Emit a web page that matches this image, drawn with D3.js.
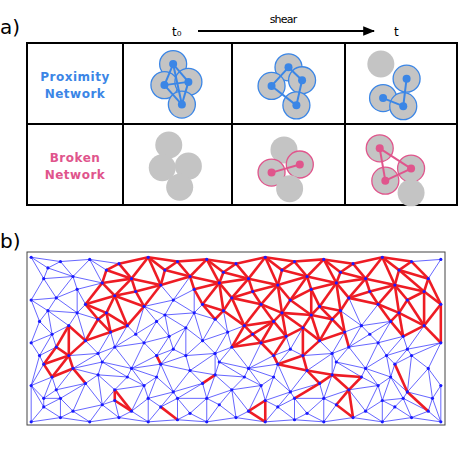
<!DOCTYPE html>
<html><head><meta charset="utf-8">
<script src="https://cdn.jsdelivr.net/npm/d3@7"></script>
<style>body{margin:0;background:#fff}text{font-family:"DejaVu Sans",sans-serif}</style>
</head><body><svg id="c" width="474" height="463"></svg>
<script>
// panel a: particle positions per cell (cell units 0..100), linked pairs
const rowLabels = [['Proximity', 'Network'], ['Broken', 'Network']];
const rowColors = ['#3b86e6', '#e0558c'];
const cells = [
  {row: 0, col: 1, p: [[46, 26], [38, 52], [60, 48], [54, 76]], ringed: [0, 1, 2, 3], links: [[0, 1], [0, 2], [1, 2], [1, 3], [2, 3], [0, 3]]},
  {row: 0, col: 2, p: [[50, 30], [35, 53], [62, 46], [57, 77]], ringed: [0, 1, 2, 3], links: [[0, 1], [0, 2], [1, 3], [2, 3]]},
  {row: 0, col: 3, p: [[32, 26], [55, 44], [34, 68], [52, 78]], ringed: [1, 2, 3], links: [[2, 3], [1, 3]]},
  {row: 1, col: 1, p: [[42, 26], [36, 54], [60, 52], [52, 78]], ringed: [], links: []},
  {row: 1, col: 2, p: [[46, 32], [35, 60], [60, 50], [51, 80]], ringed: [1, 2], links: [[1, 2]]},
  {row: 1, col: 3, p: [[31, 30], [59, 55], [36, 70], [59, 85]], ringed: [0, 1, 2], links: [[0, 1], [1, 2], [0, 2]]}
];
const colEdges = [27, 123, 232, 345, 457];
// panel b: nodes [x, y, broken] in box units (0..100 x 0..40)
const nodes = [
[1,1,0],[8,2,0],[15,1.5,0],[22,2.5,1],[29,1,1],[36,2,1],[43,1.5,1],[50,2.5,1],[57,1,1],[64,2,1],[71,1.5,1],[78,2.5,1],[85,1,1],[92,2,1],[99,1.5,0],
[4,6,0],[11,5.5,0],[18,7,1],[25,6,1],[32,7.5,1],[39,5.5,1],[46,7,1],[53,6,1],[60,7.5,1],[67,5.5,1],[74,7,1],[81,6,1],[88,7.5,1],[96,6,1],
[1,11,0],[7,10.5,0],[14,12,1],[21,10,1],[28,12.5,1],[35,11,0],[42,12,1],[49,10.5,1],[56,12,1],[63,11,1],[70,12.5,1],[77,10.5,1],[84,12,1],[91,11,1],[99,12,1],
[3,16,0],[10,17,1],[17,15.5,1],[24,17,1],[31,16,0],[38,17.5,0],[45,15.5,1],[52,17,1],[59,16,1],[66,17.5,1],[73,15.5,1],[80,17,0],[87,16,1],[95,17,1],
[1,21,1],[7,22,1],[14,20.5,1],[21,22,0],[28,21,0],[35,22.5,0],[42,20.5,0],[49,22,1],[56,21,1],[63,22.5,0],[70,20.5,1],[77,22,1],[84,21,0],[91,22.5,0],[99,21,1],
[4,26,1],[11,27,1],[18,25.5,0],[25,27,0],[32,26,1],[39,27.5,0],[46,25.5,0],[53,27,0],[60,26,1],[67,27.5,1],[74,25.5,0],[81,27,0],[88,26,1],[96,27,0],
[1,31,0],[7,32,0],[14,30.5,1],[21,32,1],[28,31,0],[35,32.5,0],[42,30.5,1],[49,32,0],[56,31,0],[63,32.5,0],[70,30.5,1],[77,32,1],[84,31,0],[91,32.5,1],[99,31,0],
[4,36,1],[11,37,0],[18,35.5,0],[25,37,1],[32,36,1],[39,37.5,0],[46,35.5,0],[53,37,1],[60,36,0],[67,37.5,0],[74,35.5,1],[81,37,0],[88,36,0],[96,37,1],
[1,39.5,0],[15,39.5,1],[29,39.5,0],[43,39.5,0],[57,39.5,1],[71,39.5,0],[85,39.5,0],[99,39.5,0],
[5,3.5,0],[19,4,1],[33,4,1],[47,4.5,1],[61,4,1],[75,4.5,1],[89,4,1],[12,14,0],[40,14,0],[68,14.5,1],[26,19,0],[54,19,1],[82,19,0],[10,24,1],[38,24,0],[66,24,1],[92,24,0],
[24,29,0],[52,29,0],[80,29,1],[8,34,0],[36,34,0],[64,34,1],[90,34,0],
[12,8.5,0],[26,9,1],[40,8.5,1],[54,9,1],[68,8.5,1],[82,9,1],[95,9,1],[5,13.5,0],[19,14,1],[33,14.5,0],[47,13.5,1],[61,14,1],[75,13.5,1],[89,14,1],
[6,19,0],[20,18.5,1],[34,19.5,0],[48,18.5,0],[62,19.5,1],[76,18.5,1],[90,19.5,1],[3,24,0],[17,23.5,0],[31,24,1],[45,23.5,0],[59,24,1],[73,23.5,0],[86,24,0],
[6,29,1],[17,28.5,0],[31,29,0],[45,28.5,1],[59,29,0],[73,28.5,1],[87,29,0],[4,34,0],[21,34.5,1],[29,34,0],[43,34,0],[57,34.5,1],[71,34,0],[85,34.5,0],[97,34,0],
[8,38.5,0],[22,38.5,0],[36,39,1],[50,38.5,0],[64,39,0],[78,38.5,1],[92,38.5,0]
];

const svg = d3.select('#c');

// ---- panel a ----
svg.append('text').attr('x', 0).attr('y', 34).attr('font-size', 20).text('a)');
svg.append('text').attr('x', 172).attr('y', 36).attr('font-size', 12).text('t₀');
svg.append('text').attr('x', 283).attr('y', 23).attr('font-size', 11).attr('text-anchor', 'middle').attr('letter-spacing', -0.8).text('shear');
svg.append('text').attr('x', 394).attr('y', 36).attr('font-size', 12).text('t');
svg.append('defs').append('marker').attr('id', 'ah').attr('viewBox', '0 0 10 10').attr('refX', 9).attr('refY', 5)
  .attr('markerWidth', 6).attr('markerHeight', 6).attr('orient', 'auto')
  .append('path').attr('d', 'M0,1L10,5L0,9Z').attr('fill', '#000');
svg.append('line').attr('x1', 198).attr('x2', 374).attr('y1', 31).attr('y2', 31)
  .attr('stroke', '#000').attr('stroke-width', 2).attr('marker-end', 'url(#ah)');

const rowY = d3.scaleLinear().domain([0, 2]).range([43, 205]);
svg.append('rect').attr('x', 27).attr('y', 43).attr('width', 430).attr('height', 162)
  .attr('fill', 'none').attr('stroke', '#000').attr('stroke-width', 2);
colEdges.slice(1, -1).forEach(x => svg.append('line').attr('x1', x).attr('x2', x).attr('y1', 43).attr('y2', 205).attr('stroke', '#000').attr('stroke-width', 2));
svg.append('line').attr('x1', 27).attr('x2', 457).attr('y1', rowY(1)).attr('y2', rowY(1)).attr('stroke', '#000').attr('stroke-width', 2);

rowLabels.forEach((lab, r) => {
  const cy = (rowY(r) + rowY(r + 1)) / 2;
  lab.forEach((s, i) => svg.append('text').attr('x', 75).attr('y', cy - 3 + i * 17)
    .attr('text-anchor', 'middle').attr('font-size', 12).attr('font-weight', 'bold')
    .attr('fill', rowColors[r]).attr('letter-spacing', 0.5).text(s));
});

cells.forEach(c => {
  const x = d3.scaleLinear().domain([0, 100]).range([colEdges[c.col], colEdges[c.col + 1]]);
  const y = d3.scaleLinear().domain([0, 100]).range([rowY(c.row), rowY(c.row + 1)]);
  const col = rowColors[c.row];
  const g = svg.append('g');
  g.selectAll('circle.p').data(c.p).join('circle').attr('cx', d => x(d[0])).attr('cy', d => y(d[1]))
    .attr('r', 13.5).attr('fill', '#c4c4c4')
    .attr('stroke', (d, i) => c.ringed.includes(i) ? col : 'none').attr('stroke-width', 1.3);
  g.selectAll('line').data(c.links).join('line')
    .attr('x1', d => x(c.p[d[0]][0])).attr('y1', d => y(c.p[d[0]][1]))
    .attr('x2', d => x(c.p[d[1]][0])).attr('y2', d => y(c.p[d[1]][1]))
    .attr('stroke', col).attr('stroke-width', 2);
  g.selectAll('circle.n').data(c.ringed).join('circle').attr('cx', i => x(c.p[i][0])).attr('cy', i => y(c.p[i][1]))
    .attr('r', 4).attr('fill', col);
});

// ---- panel b ----
svg.append('text').attr('x', 0).attr('y', 248).attr('font-size', 20).text('b)');
const bx = d3.scaleLinear().domain([0, 100]).range([27, 445]);
const by = d3.scaleLinear().domain([0, 40]).range([253, 424]);
svg.append('rect').attr('x', 27).attr('y', 252).attr('width', 418).attr('height', 173)
  .attr('fill', 'none').attr('stroke', '#444').attr('stroke-width', 1);
const pts = nodes.map(d => [bx(d[0]), by(d[1])]);
const del = d3.Delaunay.from(pts);
const edges = [];
const seen = new Set();
for (let t = 0; t < del.triangles.length; t += 3) {
  for (let k = 0; k < 3; k++) {
    const a = del.triangles[t + k], b = del.triangles[t + (k + 1) % 3];
    const key = Math.min(a, b) + '-' + Math.max(a, b);
    if (seen.has(key)) continue;
    seen.add(key);
    const len = Math.hypot(pts[a][0] - pts[b][0], pts[a][1] - pts[b][1]);
    if (len < 40) edges.push([a, b]);
  }
}
const bg = svg.append('g');
bg.selectAll('line.b').data(edges).join('line')
  .attr('x1', d => pts[d[0]][0]).attr('y1', d => pts[d[0]][1])
  .attr('x2', d => pts[d[1]][0]).attr('y2', d => pts[d[1]][1])
  .attr('stroke', '#2b2bff').attr('stroke-width', 0.9).attr('opacity', 0.8);
bg.selectAll('line.r').data(edges.filter(e => nodes[e[0]][2] && nodes[e[1]][2])).join('line')
  .attr('x1', d => pts[d[0]][0]).attr('y1', d => pts[d[0]][1])
  .attr('x2', d => pts[d[1]][0]).attr('y2', d => pts[d[1]][1])
  .attr('stroke', '#ee1c24').attr('stroke-width', 2.6);
bg.selectAll('circle').data(pts).join('circle').attr('cx', d => d[0]).attr('cy', d => d[1])
  .attr('r', 1.6).attr('fill', '#1a1aff');
</script></body></html>
